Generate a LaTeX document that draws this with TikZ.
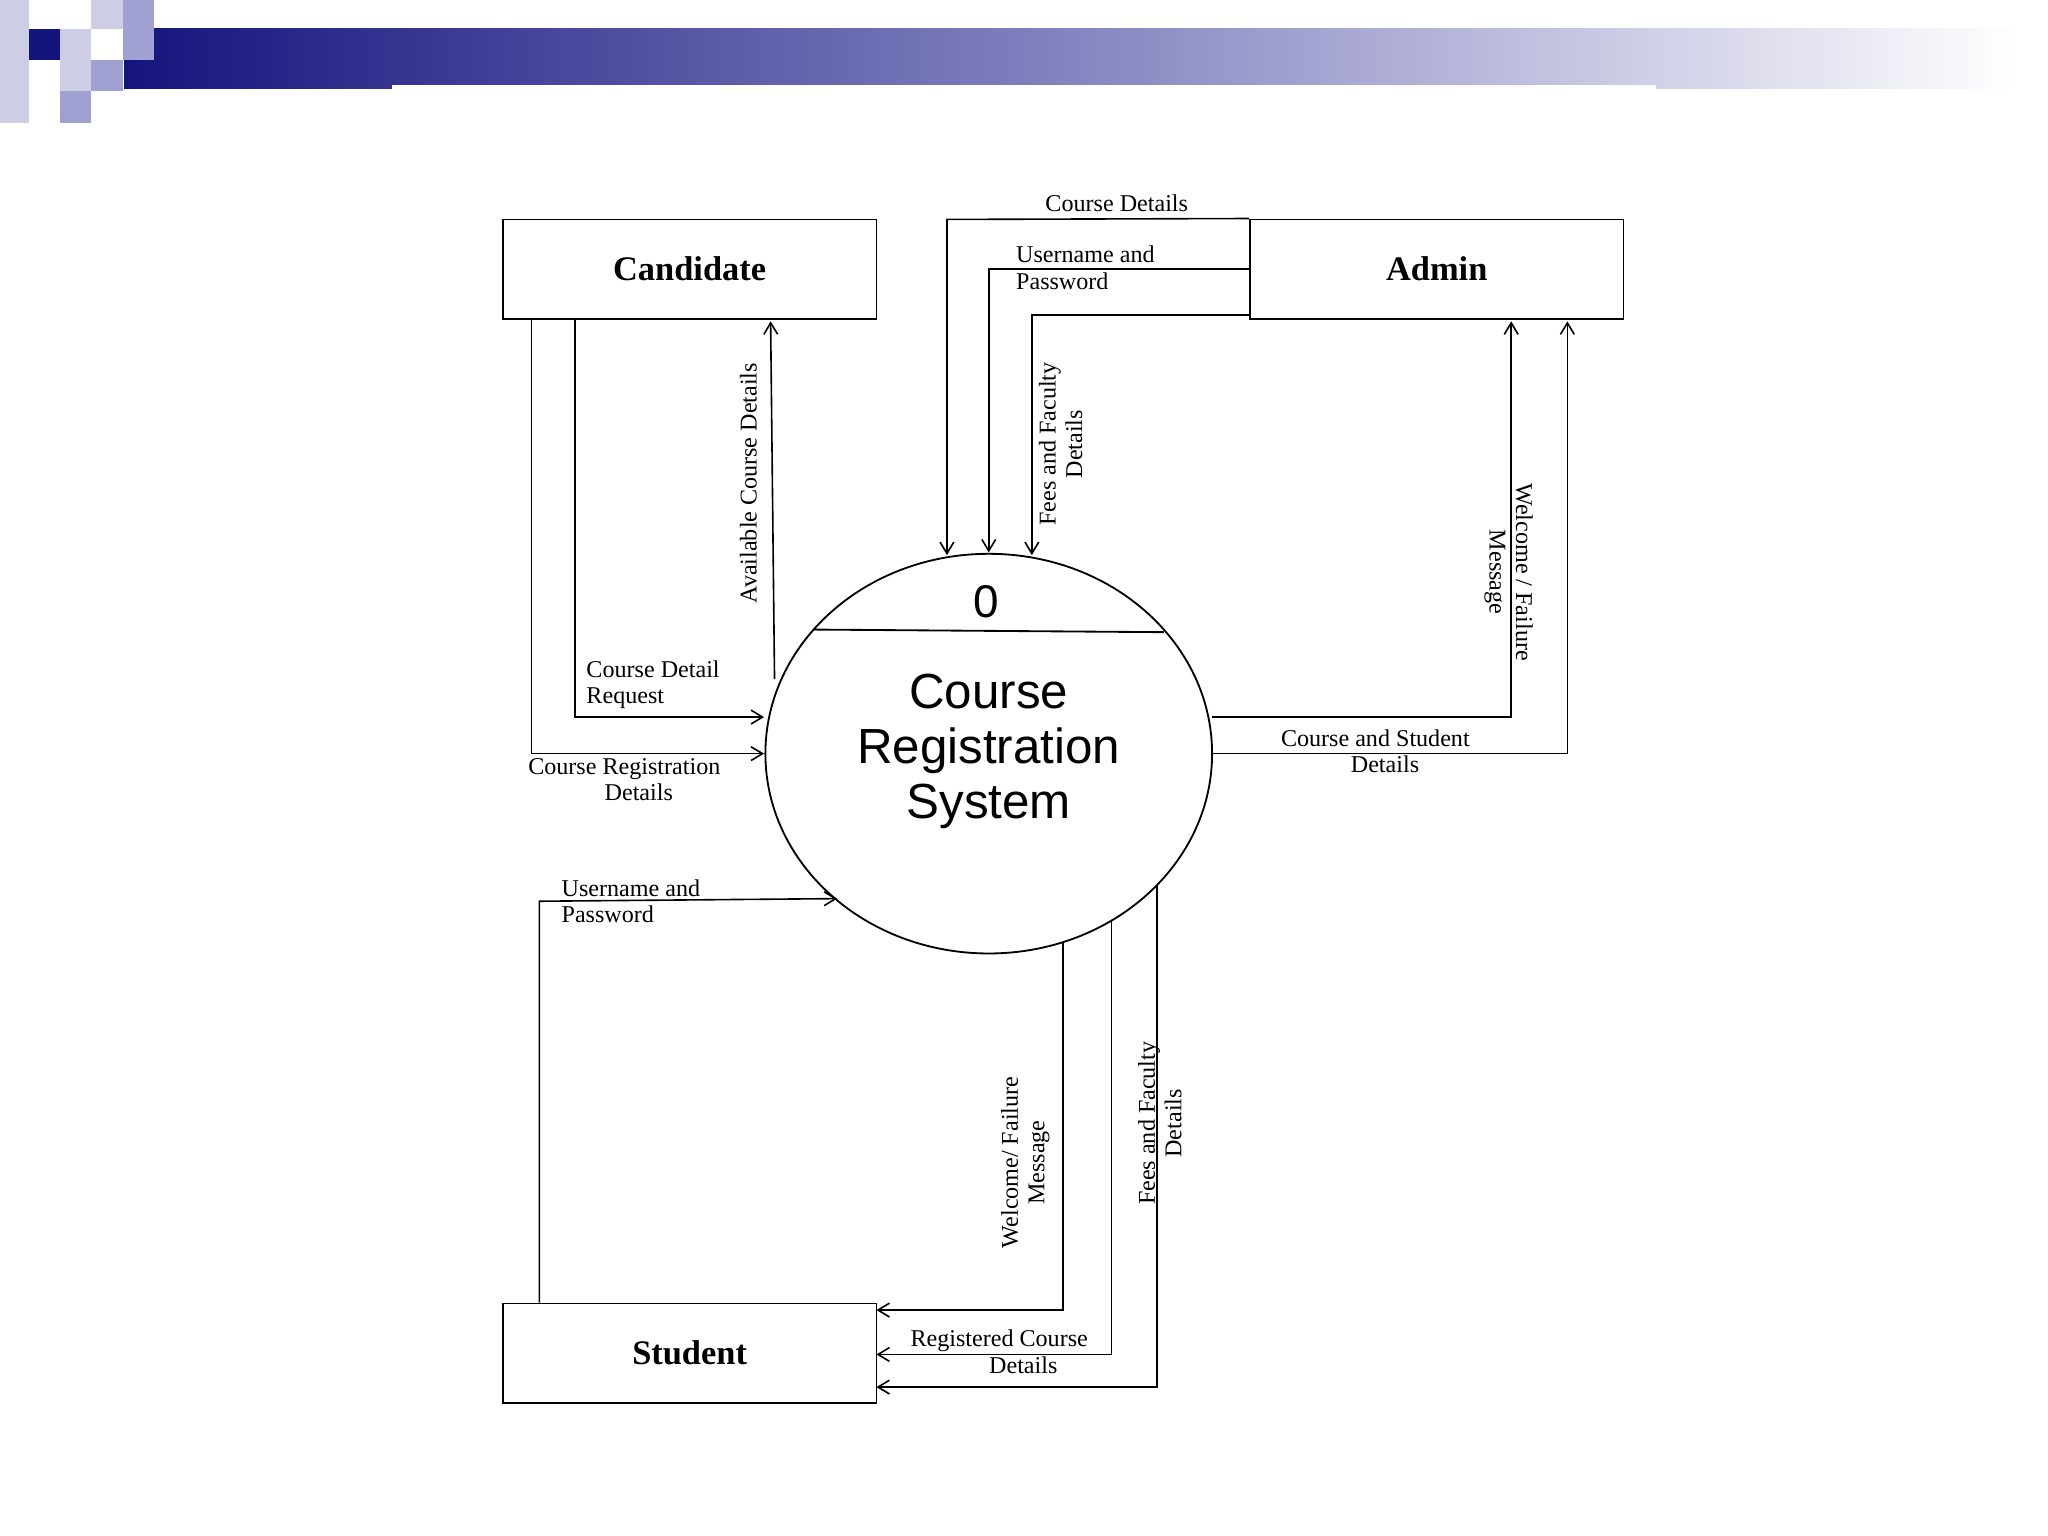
\documentclass[tikz,border=0pt]{standalone}
\usepackage{fontspec}
\setmainfont{Liberation Serif}
\newfontfamily\arialf{Liberation Sans}
\usetikzlibrary{shapes.geometric,arrows.meta}
\definecolor{navy}{RGB}{20,20,125}
\definecolor{lav}{RGB}{160,160,210}
\definecolor{lavl}{RGB}{205,205,230}
\begin{document}
\begin{tikzpicture}[x=0.02cm,y=-0.02cm,
  ent/.style={draw,thick,minimum width=286*0.02cm,minimum height=76*0.02cm,font=\fontsize{15}{17}\selectfont\bfseries},
  flow/.style={-{Straight Barb[length=5pt,width=6pt]},line width=0.7pt},
  lab/.style={font=\fontsize{10.5}{11.5}\selectfont,inner sep=1pt,align=center},
  lbl/.style={lab,align=left}]
\useasboundingbox (0,0) rectangle (1568,1176);
\fill[white] (0,0) rectangle (1568,1176);
% header
\shade[left color=navy,right color=white,middle color=lav!80!navy] (95,22) rectangle (1545,68);
\fill[white] (300,65) rectangle (1268,70);
\fill[lavl] (0,0) rectangle (22,94);
\fill[lavl] (70,0) rectangle (118,22);
\fill[lav] (94,0) rectangle (118,46);
\fill[lavl] (46,22) rectangle (70,70);
\fill[lav] (70,46) rectangle (94,70);
\fill[lav] (46,70) rectangle (70,94);
\fill[navy] (22,22) rectangle (46,46);
% entities
\node[ent] (cand) at (528,206) {Candidate};
\node[ent] (admin) at (1100,206) {Admin};
\node[ent] (stud) at (528,1036) {Student};
% process
\node[draw,thick,ellipse,minimum width=342*0.02cm,minimum height=306*0.02cm,inner sep=0] (proc) at (757,577) {};
\draw[thick] (623,482) -- (891,484);
\node[font=\arialf\fontsize{20}{20}\selectfont] (zero) at (755,461) {0};
\node[font=\arialf\fontsize{21.5}{24}\selectfont,align=center] (ptxt) at (757,575) {Course\\Registration\\System};
% candidate flows
\coordinate (c1) at (407,577); \coordinate (c2) at (440,549);
\draw[flow] (cand.south -| c1) -- (c1) -- (585,577);
\draw[flow] (cand.south -| c2) -- (c2) -- (585,549);
\draw[flow] (593,520) -- (590,246);
\node[lab] (l1) at (478,597) {Course Registration\\\hspace*{1.2em}Details};
\node[lbl] (l2) at (500,524) {Course Detail\\Request};
\node[lab,rotate=90] (l3) at (573,370) {Available Course Details};
% admin flows
\draw[flow] (admin.north west) -- (725,168) -- (725,425);
\draw[flow] (957,206) -- (757,206) -- (757,423);
\draw[flow] (957,241) -- (790,241) -- (790,425);
\node[lab] (l4) at (855,156) {Course Details};
\node[lbl] (l5) at (831,205) {Username and\\Password};
\node[lab,rotate=90] (l6) at (812,340) {Fees and Faculty\\Details};
\draw[flow] (928,549) -- (1157,549) -- (1157,246);
\draw[flow] (929,577) -- (1200,577) -- (1200,246);
\node[lab,rotate=-90] (l7) at (1155,438) {Welcome / Failure\\Message};
\node[lab] (l8) at (1053,575) {Course and Student\\\hspace*{0.8em}Details};
% student flows
\draw[flow] (stud.north -| 413,0) -- (413,690) -- (641,688);
\node[lbl] (l9) at (483,690) {Username and\\Password};
\draw[flow] (814,722) -- (814,1003) -- (671,1003);
\draw[flow] (851,705) -- (851,1037) -- (671,1037);
\draw[flow] (886,678) -- (886,1062) -- (671,1062);
\node[lab,rotate=90] (l10) at (785,890) {Welcome/ Failure\\Message};
\node[lab] (l11) at (765,1035) {Registered Course\\\hspace*{2em}Details};
\node[lab,rotate=90] (l12) at (888,860) {Fees and Faculty\\Details};
\end{tikzpicture}
\end{document}
